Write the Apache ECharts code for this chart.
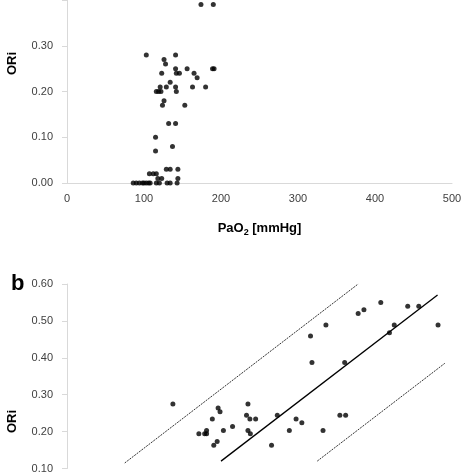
<!DOCTYPE html>
<html><head><meta charset="utf-8">
<script src="https://cdn.jsdelivr.net/npm/echarts@6/dist/echarts.min.js"></script>
<style>html,body{margin:0;background:#fff;overflow:hidden}#c{width:474px;height:474px}</style>
</head><body><div id="c"></div>
<script>
// panel a: PaO2 vs ORi
var paO2 = [174,190,103,141,126,128,141,156,189,191,123,142,146,165,169,134,121,129,141,163,180,116,119,122,142,126,124,153,132,141,115,137,115,107,112,116,129,134,144,118,123,144,86,90,94,98,100,103,106,108,116,120,130,134,143];
var oriA = [0.39,0.39,0.28,0.28,0.27,0.26,0.25,0.25,0.25,0.25,0.24,0.24,0.24,0.24,0.23,0.22,0.21,0.21,0.21,0.21,0.21,0.20,0.20,0.20,0.20,0.18,0.17,0.17,0.13,0.13,0.10,0.08,0.07,0.02,0.02,0.02,0.03,0.03,0.03,0.01,0.01,0.01,0,0,0,0,0,0,0,0,0,0,0,0,0];
// panel b
var predB = [0.220,0.314,0.318,0.376,0.373,0.380,0.392,0.302,0.344,0.274,0.286,0.290,0.290,0.325,0.376,0.381,0.312,0.305,0.425,0.437,0.476,0.488,0.462,0.532,0.567,0.579,0.506,0.538,0.509,0.577,0.605,0.617,0.652,0.708,0.731,0.680,0.670,0.771];
var oriB = [0.275,0.264,0.254,0.275,0.244,0.234,0.234,0.234,0.214,0.194,0.194,0.194,0.203,0.203,0.203,0.194,0.173,0.163,0.163,0.244,0.234,0.224,0.203,0.203,0.244,0.244,0.459,0.489,0.387,0.387,0.520,0.530,0.550,0.540,0.540,0.489,0.468,0.489];
var fitLine = [[0.32,0.12],[0.77,0.57]];
var upperLine = [[0.12,0.115],[0.605,0.6]];
var lowerLine = [[0.52,0.12],[0.785,0.385]];

var chart = echarts.init(document.getElementById('c'));
var lab = {color:'#404040', fontSize:11, fontFamily:'Liberation Sans'};
function pts(xs, ys){ return xs.map(function(x,i){return [x, ys[i]];}); }
var option = {
  animation:false,
  textStyle:{fontFamily:'Liberation Sans'},
  title:[
    {text:'b', left:6, top:268, textStyle:{fontSize:22, fontWeight:'bold', color:'#000'}}
  ],
  graphic:[
    {type:'text', left:6, top:52, rotation:Math.PI/2, style:{text:'ORi', font:'bold 13px Liberation Sans', fill:'#000'}},
    {type:'text', left:6, top:410, rotation:Math.PI/2, style:{text:'ORi', font:'bold 13px Liberation Sans', fill:'#000'}}
  ],
  grid:[
    {left:67, width:385, top:-4, height:187},
    {left:67, width:385, top:284, bottom:-20}
  ],
  xAxis:[
    {gridIndex:0, type:'value', min:0, max:500, interval:100,
     axisLine:{lineStyle:{color:'#d9d9d9'}}, axisTick:{show:false}, splitLine:{show:false},
     axisLabel:Object.assign({margin:10}, lab),
     name:'{n|PaO}{s|2}{n| [mmHg]}', nameLocation:'middle', nameGap:37,
     nameTextStyle:{rich:{n:{fontSize:13,fontWeight:'bold',color:'#000'}, s:{fontSize:9,fontWeight:'bold',color:'#000',padding:[8,0,0,0]}}}},
    {gridIndex:1, type:'value', min:0, max:0.8, show:false}
  ],
  yAxis:[
    {gridIndex:0, type:'value', min:0, max:0.4, interval:0.1,
     axisLine:{show:true, lineStyle:{color:'#d9d9d9'}}, axisTick:{show:true, length:5, lineStyle:{color:'#d9d9d9'}}, splitLine:{show:false},
     axisLabel:Object.assign({formatter:function(v){return v > 0.35 ? '' : v.toFixed(2);}, margin:14}, lab)},
    {gridIndex:1, type:'value', min:0.1, max:0.6, interval:0.1,
     axisLine:{show:true, lineStyle:{color:'#d9d9d9'}}, axisTick:{show:true, length:5, lineStyle:{color:'#d9d9d9'}}, splitLine:{show:false},
     axisLabel:Object.assign({formatter:function(v){return v.toFixed(2);}, margin:14}, lab)}
  ],
  series:[
    {type:'scatter', xAxisIndex:0, yAxisIndex:0, symbolSize:5, itemStyle:{color:'#000'}, data:pts(paO2, oriA)},
    {type:'scatter', xAxisIndex:1, yAxisIndex:1, symbolSize:5, itemStyle:{color:'#000'}, data:pts(predB, oriB)},
    {type:'line', xAxisIndex:1, yAxisIndex:1, symbol:'none', lineStyle:{color:'#000', width:1.3}, data:fitLine},
    {type:'line', xAxisIndex:1, yAxisIndex:1, symbol:'none', lineStyle:{color:'#333', width:1, type:[2,1]}, data:upperLine},
    {type:'line', xAxisIndex:1, yAxisIndex:1, symbol:'none', lineStyle:{color:'#333', width:1, type:[2,1]}, data:lowerLine}
  ]
};
chart.setOption(option);
</script></body></html>
